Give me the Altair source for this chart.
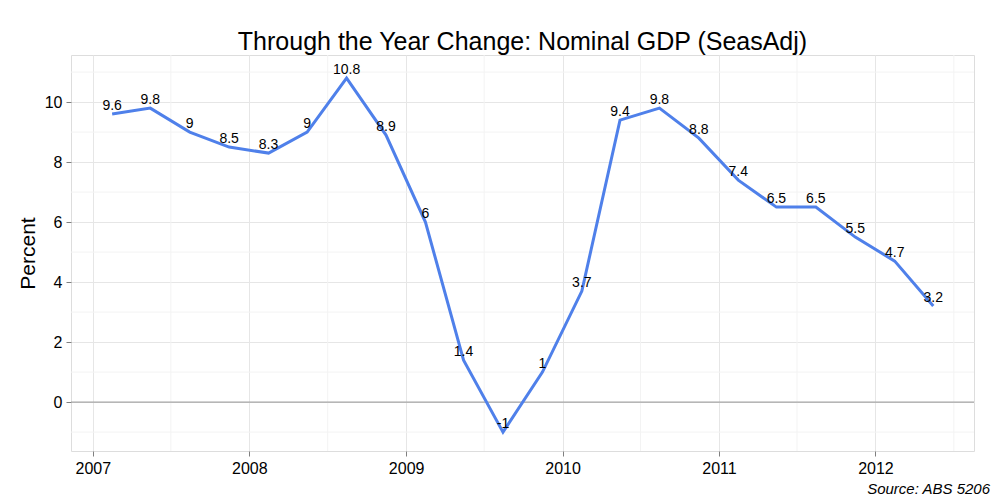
import altair as alt
import pandas as pd

# quarterly through-the-year growth, nominal GDP (seasonally adjusted)
dates = [
    "2007-02-15", "2007-05-15", "2007-08-15", "2007-11-15",
    "2008-02-15", "2008-05-15", "2008-08-15", "2008-11-15",
    "2009-02-15", "2009-05-15", "2009-08-15", "2009-11-15",
    "2010-02-15", "2010-05-15", "2010-08-15", "2010-11-15",
    "2011-02-15", "2011-05-15", "2011-08-15", "2011-11-15",
    "2012-02-15", "2012-05-15",
]
growth = [9.6, 9.8, 9.0, 8.5, 8.3, 9.0, 10.8, 8.9, 6.0, 1.4, -1.0, 1.0,
          3.7, 9.4, 9.8, 8.8, 7.4, 6.5, 6.5, 5.5, 4.7, 3.2]
labels = ["9.6", "9.8", "9", "8.5", "8.3", "9", "10.8", "8.9", "6", "1.4", "-1", "1",
          "3.7", "9.4", "9.8", "8.8", "7.4", "6.5", "6.5", "5.5", "4.7", "3.2"]

year_ticks = ["2007-01-01", "2008-01-01", "2009-01-01", "2010-01-01", "2011-01-01", "2012-01-01"]
minor_x = ["2007-07-02", "2008-07-02", "2009-07-02", "2010-07-02", "2011-07-02", "2012-07-02"]
minor_y = [-1, 1, 3, 5, 7, 9, 11]
source_note = "Source: ABS 5206"

df = pd.DataFrame({"date": dates, "value": growth, "label": labels})

FONT = "Liberation Sans"
W, H = 903, 396

x_scale = alt.Scale(domain=["2006-11-11", "2012-08-18"], nice=False)
y_scale = alt.Scale(domain=[-1.63, 11.57], nice=False, zero=False)

minor_v = alt.Chart(pd.DataFrame({"d": minor_x})).mark_rule(
    color="#F3F3F3", strokeWidth=1
).encode(x=alt.X("d:T", scale=x_scale))

minor_h = alt.Chart(pd.DataFrame({"v": minor_y})).mark_rule(
    color="#F3F3F3", strokeWidth=1
).encode(y=alt.Y("v:Q", scale=y_scale))

zero_line = alt.Chart(pd.DataFrame({"v": [0]})).mark_rule(
    color="#A6A6A6", strokeWidth=1.2
).encode(y=alt.Y("v:Q", scale=y_scale))

line = alt.Chart(df).mark_line(color="#4F80EA", strokeWidth=3).encode(
    x=alt.X("date:T", scale=x_scale, title=None,
            axis=alt.Axis(values=year_ticks, format="%Y", labelFontSize=16,
                          labelColor="#000000", labelFont=FONT, labelPadding=4,
                          tickColor="#7F7F7F", tickSize=5, domain=False,
                          gridColor="#E6E6E6", labelFlush=False)),
    y=alt.Y("value:Q", scale=y_scale, title="Percent",
            axis=alt.Axis(values=[0, 2, 4, 6, 8, 10], labelFontSize=16,
                          labelColor="#000000", labelFont=FONT, labelPadding=4,
                          tickColor="#7F7F7F", tickSize=5, domain=False,
                          gridColor="#E6E6E6", titleFontSize=21,
                          titleFont=FONT, titleFontWeight="normal",
                          titleColor="#000000", titlePadding=6)),
)

text = alt.Chart(df).mark_text(
    fontSize=14, font=FONT, color="#000000", baseline="bottom", dy=-1
).encode(
    x=alt.X("date:T", scale=x_scale),
    y=alt.Y("value:Q", scale=y_scale),
    text="label:N",
)

note = alt.Chart(pd.DataFrame({"t": [source_note]})).mark_text(
    fontSize=15, font=FONT, fontStyle="italic", color="#000000",
    align="right", baseline="middle"
).encode(text="t:N", x=alt.value(919), y=alt.value(434))

chart = alt.layer(minor_v, minor_h, zero_line, line, text, note).properties(
    width=W, height=H,
    title=alt.Title("Through the Year Change: Nominal GDP (SeasAdj)",
                    fontSize=25, font=FONT, fontWeight="normal",
                    color="#000000", anchor="middle", offset=0),
    autosize=alt.AutoSizeParams(type="none"),
    padding={"left": 63, "top": 47, "right": 18, "bottom": 49},
).configure_view(
    stroke="#8C8C8C", strokeWidth=1.2
).configure(background="white")

chart.save("out.html", embed_options={"renderer": "svg", "actions": False})
